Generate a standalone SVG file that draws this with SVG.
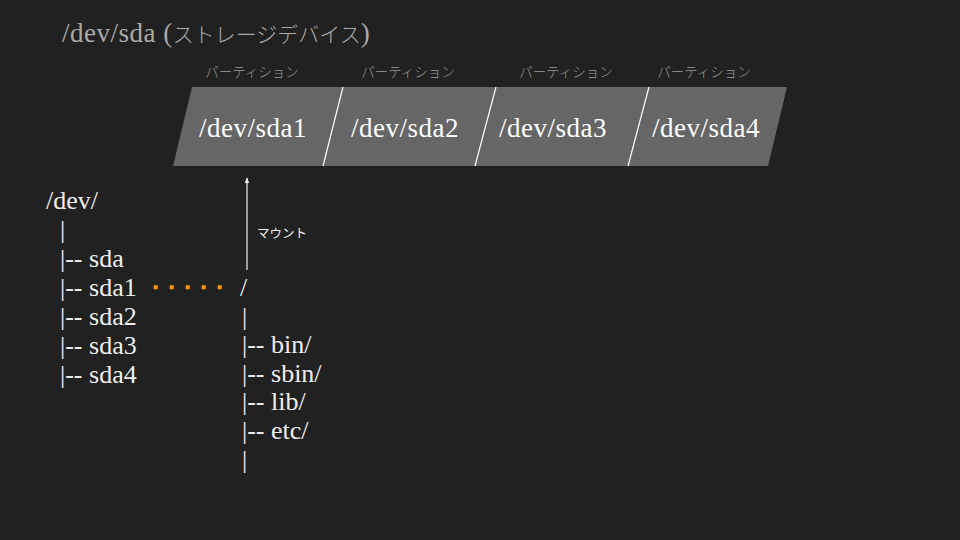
<svg xmlns="http://www.w3.org/2000/svg" width="960" height="540" viewBox="0 0 960 540">
<defs>
<style>
.serif{font-family:"Liberation Serif","Noto Sans CJK JP",serif;}
.title{font-size:27px;fill:#aaaaaa;letter-spacing:0.5px;}
.part{font-family:"Noto Sans CJK JP","Noto Sans",sans-serif;font-size:13.5px;fill:#9a9a9a;font-weight:300;}
.box{font-size:27px;fill:#ffffff;letter-spacing:0.5px;}
.tree{font-size:26px;fill:#eeeeee;}
.jp{font-family:"Noto Sans CJK JP","Noto Sans",sans-serif;font-size:12.5px;fill:#eeeeee;}
</style>
<marker id="ah" viewBox="0 0 10 10" refX="9" refY="5" markerWidth="6" markerHeight="6" markerUnits="userSpaceOnUse" orient="auto">
<path d="M0,1 L10,5 L0,9 Z" fill="#eeeeee"/>
</marker>
</defs>
<rect width="960" height="540" fill="#212121"/>
<text id="title" class="serif title" x="62" y="42">/dev/sda (<tspan font-family="Noto Sans CJK JP, sans-serif" font-size="21" font-weight="300" letter-spacing="0">ストレージデバイス</tspan>)</text>
<g id="device">
<polygon points="192,87 787,87 768,166 173,166" fill="#666666"/>
</g>
<g id="sda1">
<text class="part" x="252" y="77" text-anchor="middle">パーティション</text>
<text class="serif box" x="253" y="137" text-anchor="middle">/dev/sda1</text>
</g>
<g id="sda2">
<text class="part" x="408" y="77" text-anchor="middle">パーティション</text>
<text class="serif box" x="405" y="137" text-anchor="middle">/dev/sda2</text>
</g>
<g id="sda3">
<text class="part" x="566" y="77" text-anchor="middle">パーティション</text>
<text class="serif box" x="553" y="137" text-anchor="middle">/dev/sda3</text>
</g>
<g id="sda4">
<text class="part" x="704" y="77" text-anchor="middle">パーティション</text>
<text class="serif box" x="706" y="137" text-anchor="middle">/dev/sda4</text>
</g>
<g id="dividers" stroke="#ffffff" stroke-width="1.2">
<line x1="343" y1="87" x2="323" y2="166"/>
<line x1="496" y1="87" x2="475" y2="166"/>
<line x1="649" y1="87" x2="628" y2="166"/>
</g>
<g id="devtree" class="serif tree">
<text x="46" y="209">/dev/</text>
<text x="60" y="238">|</text>
<text x="60" y="267">|-- sda</text>
<text x="60" y="296">|-- sda1</text>
<text x="60" y="325">|-- sda2</text>
<text x="60" y="354">|-- sda3</text>
<text x="60" y="383">|-- sda4</text>
</g>
<g id="roottree" class="serif tree">
<text x="240" y="296">/</text>
<text x="242" y="325">|</text>
<text x="242" y="353">|-- bin/</text>
<text x="242" y="382">|-- sbin/</text>
<text x="242" y="410">|-- lib/</text>
<text x="242" y="439">|-- etc/</text>
<text x="242" y="468">|</text>
</g>
<g id="connectors">
<line x1="153.7" y1="287.3" x2="222" y2="287.3" stroke="#ff9900" stroke-width="4" stroke-dasharray="4 12"/>
<line x1="247" y1="270" x2="247" y2="178" stroke="#eeeeee" stroke-width="1.2" marker-end="url(#ah)"/>
<text class="jp" x="257" y="238">マウント</text>
</g>
</svg>
